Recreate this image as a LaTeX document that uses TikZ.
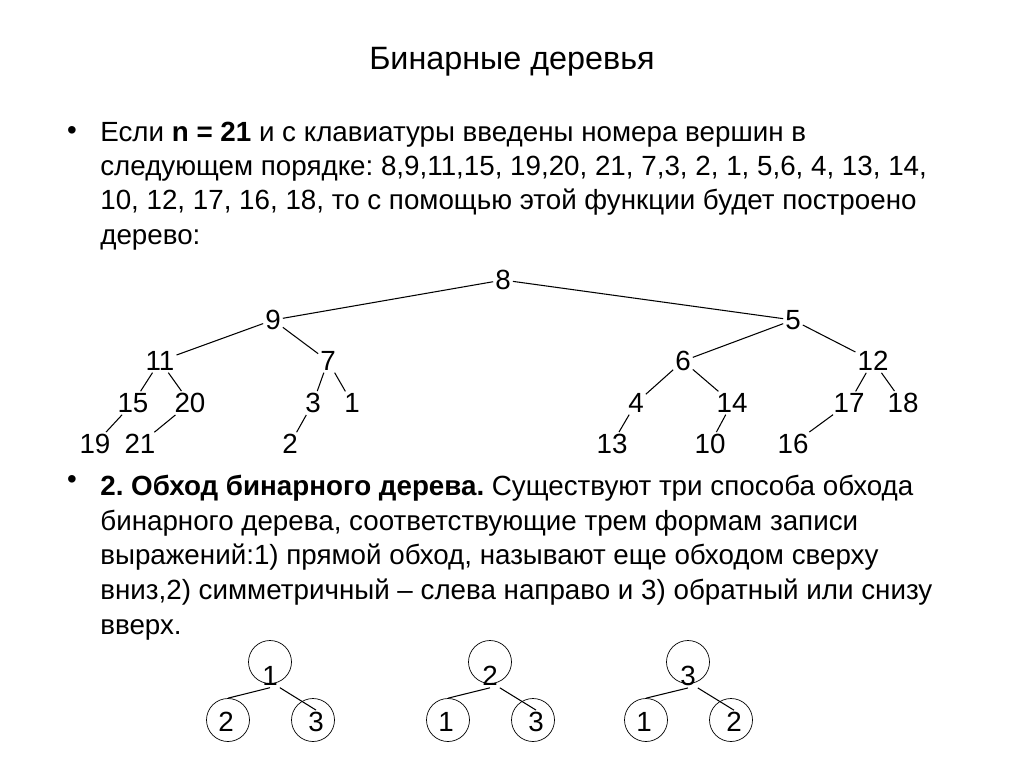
\documentclass[tikz,border=0pt]{standalone}
\usepackage{fontspec}
\setmainfont{Liberation Sans}
\frenchspacing
\begin{document}
\begin{tikzpicture}[x=0.02cm, y=-0.02cm,
  txt/.style={anchor=base west, font=\fontsize{15.8}{19}\selectfont, inner sep=0pt},
  t/.style={font=\fontsize{15.8}{19}\selectfont, inner sep=1pt},
  c/.style={circle, draw, minimum size=0.86cm, inner sep=0pt},
  e/.style={semithick}
]
\useasboundingbox (0,0) rectangle (1024,768);
% --- title and first bullet ---
\node[t, font=\fontsize{18.4}{22}\selectfont] (title) at (512,62) {Бинарные деревья};
\node[t] (b1) at (72,133) {•};
\node[txt] (l1) at (100,141) {Если \textbf{n = 21} и с клавиатуры введены номера вершин в};
\node[txt] (l2) at (100,175) {следующем порядке: 8,9,11,15, 19,20, 21, 7,3, 2, 1, 5,6, 4, 13, 14,};
\node[txt] (l3) at (100,209) {10, 12, 17, 16, 18, то с помощью этой функции будет построено};
\node[txt] (l4) at (100,244) {дерево:};

% --- tree ---
\node[t] (8) at (503,280) {8};
\node[t] (9) at (273,320) {9};
\node[t] (5) at (793,320) {5};
\node[t] (11) at (160,361) {11};
\node[t] (7) at (328,361) {7};
\node[t] (6) at (683,361) {6};
\node[t] (12) at (873,361) {12};
\node[t] (15) at (133,403) {15};
\node[t] (20) at (190,403) {20};
\node[t] (3) at (313,403) {3};
\node[t] (1) at (352,403) {1};
\node[t] (4) at (636,403) {4};
\node[t] (14) at (732,403) {14};
\node[t] (17) at (849,403) {17};
\node[t] (18) at (903,403) {18};
\node[t] (19) at (95,444) {19};
\node[t] (21) at (140,444) {21};
\node[t] (2) at (290,444) {2};
\node[t] (13) at (612,444) {13};
\node[t] (10) at (710,444) {10};
\node[t] (16) at (793,444) {16};

\draw[e] (8)--(9);  \draw[e] (8)--(5);
\draw[e] (9)--(11); \draw[e] (9)--(7);
\draw[e] (5)--(6);  \draw[e] (5)--(12);
\draw[e] (11)--(15); \draw[e] (11)--(20);
\draw[e] (7)--(3);  \draw[e] (7)--(1);
\draw[e] (6)--(4);  \draw[e] (6)--(14);
\draw[e] (12)--(17); \draw[e] (12)--(18);
\draw[e] (15)--(19); \draw[e] (20)--(21);
\draw[e] (3)--(2);
\draw[e] (4)--(13); \draw[e] (14)--(10); \draw[e] (17)--(16);

% --- second bullet ---
\node[t] (b2) at (72,482) {•};
\node[txt] (m1) at (100,495) {\textbf{2. Обход бинарного дерева.} Существуют три способа обхода};
\node[txt] (m2) at (100,530) {бинарного дерева, соответствующие трем формам записи};
\node[txt] (m3) at (100,564) {выражений:1) прямой обход, называют еще обходом сверху};
\node[txt] (m4) at (100,599) {вниз,2) симметричный – слева направо и 3) обратный или снизу};
\node[txt] (m5) at (100,634) {вверх.};

% --- three small trees ---
\foreach \n/\x/\a/\b/\r in {p/270/1/2/3, s/490/2/1/3, o/688/3/1/2} {
  \node[c] (\n top) at (\x,662) {};
  \node[c] (\n l) at (\x-42,720) {};
  \node[c] (\n r) at (\x+43,720) {};
  \node[t] (\n ta) at (\x,676) {\a};
  \node[t] (\n la) at (\x-44,722) {\b};
  \node[t] (\n ra) at (\x+46,722) {\r};
  \draw[e] (\n ta.south)--(\n l.north);
  \draw[e] (\n ta.south east)--(\n ra.north);
}
\end{tikzpicture}
\end{document}
